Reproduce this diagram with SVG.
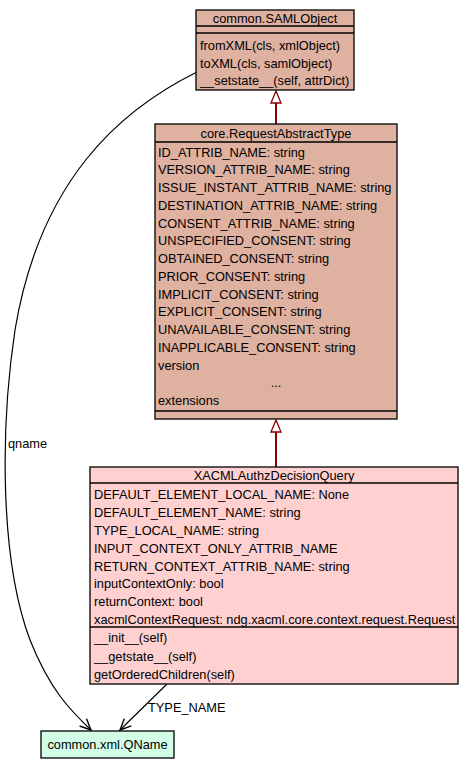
<svg xmlns="http://www.w3.org/2000/svg" width="474" height="770" viewBox="0 0 474 770">
<style>
text{font-family:"Liberation Sans",Arial,sans-serif;font-size:12.8px;fill:#000}
.t{text-anchor:middle}
.box{stroke:#000;stroke-width:1.3}
.sal{fill:#dfb1a0}
.pink{fill:#ffd0d0}
.mint{fill:#d2fde6}
.sep{stroke:#000;stroke-width:1.3}
.gen{stroke:#8b0000;stroke-width:2;fill:none}
.dep{stroke:#000;stroke-width:1.2;fill:none}
</style>
<defs>
<marker id="open" viewBox="-12 -7 14 14" refX="0" refY="0" markerWidth="14" markerHeight="14" markerUnits="userSpaceOnUse" orient="auto">
<path d="M-11,-5 L0,0 L-11,5" fill="none" stroke="#000" stroke-width="1.4"/>
</marker>
</defs>
<g id="connectors">
<line class="gen" x1="276" y1="124" x2="276" y2="103"/>
<path d="M271,103 L276,91 L281,103 Z" fill="#fff" stroke="#8b0000" stroke-width="1.3"/>
<line class="gen" x1="276" y1="467" x2="276" y2="432"/>
<path d="M271,432 L276,420 L281,432 Z" fill="#fff" stroke="#8b0000" stroke-width="1.3"/>
<path class="dep" d="M197,72 C120,110 40,180 15,330 C0,430 0,560 30,640 C50,690 70,710 91,730" marker-end="url(#open)"/>
<path class="dep" d="M167,684 L120,730" marker-end="url(#open)"/>
<text x="8" y="448">qname</text>
<text x="148" y="712">TYPE_NAME</text>
</g>
<g id="SAMLObject">
<rect class="box sal" x="196" y="10" width="158" height="80"/>
<line class="sep" x1="196" y1="26" x2="354" y2="26"/>
<line class="sep" x1="196" y1="33" x2="354" y2="33"/>
<text class="t" x="275" y="23">common.SAMLObject</text>
<text x="200" y="50">fromXML(cls, xmlObject)</text>
<text x="200" y="68">toXML(cls, samlObject)</text>
<text x="200" y="85">__setstate__(self, attrDict)</text>
</g>
<g id="RequestAbstractType">
<rect class="box sal" x="155" y="124" width="242" height="295"/>
<line class="sep" x1="155" y1="142" x2="397" y2="142"/>
<line class="sep" x1="155" y1="411" x2="397" y2="411"/>
<text class="t" x="276" y="138">core.RequestAbstractType</text>
<text x="158" y="156.5">ID_ATTRIB_NAME: string</text>
<text x="158" y="174.25">VERSION_ATTRIB_NAME: string</text>
<text x="158" y="192">ISSUE_INSTANT_ATTRIB_NAME: string</text>
<text x="158" y="209.75">DESTINATION_ATTRIB_NAME: string</text>
<text x="158" y="227.5">CONSENT_ATTRIB_NAME: string</text>
<text x="158" y="245.25">UNSPECIFIED_CONSENT: string</text>
<text x="158" y="263">OBTAINED_CONSENT: string</text>
<text x="158" y="280.75">PRIOR_CONSENT: string</text>
<text x="158" y="298.5">IMPLICIT_CONSENT: string</text>
<text x="158" y="316.25">EXPLICIT_CONSENT: string</text>
<text x="158" y="334">UNAVAILABLE_CONSENT: string</text>
<text x="158" y="351.75">INAPPLICABLE_CONSENT: string</text>
<text x="158" y="369.5">version</text>
<text class="t" x="276" y="387.25">...</text>
<text x="158" y="405">extensions</text>
</g>
<g id="XACMLAuthzDecisionQuery">
<rect class="box pink" x="90" y="467" width="368" height="217"/>
<line class="sep" x1="90" y1="483" x2="458" y2="483"/>
<line class="sep" x1="90" y1="627" x2="458" y2="627"/>
<text class="t" x="274" y="480">XACMLAuthzDecisionQuery</text>
<text x="94" y="498.5">DEFAULT_ELEMENT_LOCAL_NAME: None</text>
<text x="94" y="516.5">DEFAULT_ELEMENT_NAME: string</text>
<text x="94" y="534.5">TYPE_LOCAL_NAME: string</text>
<text x="94" y="552.5">INPUT_CONTEXT_ONLY_ATTRIB_NAME</text>
<text x="94" y="570.5">RETURN_CONTEXT_ATTRIB_NAME: string</text>
<text x="94" y="588">inputContextOnly: bool</text>
<text x="94" y="606">returnContext: bool</text>
<text x="94" y="624">xacmlContextRequest: ndg.xacml.core.context.request.Request</text>
<text x="94" y="642">__init__(self)</text>
<text x="94" y="660.5">__getstate__(self)</text>
<text x="94" y="678.5">getOrderedChildren(self)</text>
</g>
<g id="QName">
<rect class="box mint" x="41" y="731" width="133" height="27"/>
<text class="t" x="107.5" y="749">common.xml.QName</text>
</g>
</svg>
